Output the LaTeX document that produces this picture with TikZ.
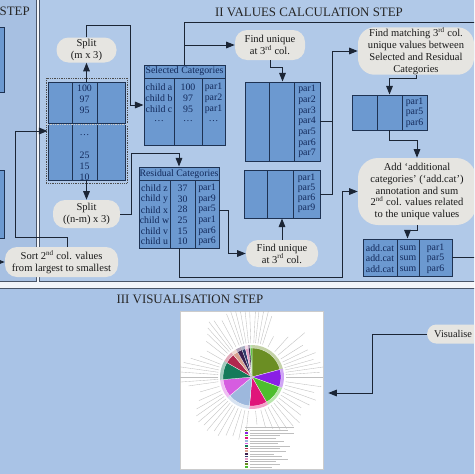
\documentclass[tikz,border=0pt]{standalone}
\usepackage{fontspec}
\setmainfont{Liberation Serif}
\usetikzlibrary{arrows.meta,calc}
\newcommand{\pxu}{0.03cm}
\definecolor{bgone}{HTML}{A7C0E2}
\definecolor{bgtwo}{HTML}{B1C9E8}
\definecolor{bgthree}{HTML}{A9C3E6}
\definecolor{gapwhite}{HTML}{F2F5FA}
\definecolor{panelline}{HTML}{4A5568}
\definecolor{tblfill}{HTML}{6C99D0}
\definecolor{tblline}{HTML}{1E3252}
\definecolor{tbltext}{HTML}{12295A}
\definecolor{bubblefill}{HTML}{E6E5E1}
\definecolor{lineclr}{HTML}{1B2535}
\definecolor{pieolive}{HTML}{6B8E23}
\definecolor{piepurple}{HTML}{8A1FE6}
\definecolor{piegreen}{HTML}{4DBE2E}
\definecolor{piemag}{HTML}{E0157A}
\definecolor{pielblue}{HTML}{9DB8DD}
\definecolor{pieviolet}{HTML}{D65DE0}
\definecolor{pieteal}{HTML}{167A5A}
\definecolor{piecrim}{HTML}{B0284E}
\definecolor{pietan}{HTML}{D9A28F}
\definecolor{piedark}{HTML}{3B1F4F}
\definecolor{pienavy}{HTML}{2E3A6A}
\definecolor{piepink}{HTML}{E8A0C8}
\tikzset{
  panel/.style={draw=panelline, line width=0.6pt},
  title/.style={inner sep=0pt, text=black!85, font=\fontsize{11}{13}\selectfont},
  tbl/.style={draw=tblline, fill=tblfill, line width=0.8pt, inner sep=0pt},
  tblrule/.style={draw=tblline, line width=0.7pt},
  cell/.style={inner sep=0pt, text=tbltext, font=\fontsize{8.4}{9}\selectfont},
  bubble/.style={fill=bubblefill, rounded corners=0.36cm, align=center, inner sep=0pt,
    text=black!90, font=\fontsize{9}{10.2}\selectfont},
  link/.style={draw=lineclr, line width=0.8pt},
  conn/.style={link, -{Triangle[length=2.6mm,width=2mm]}},
  ray/.style={draw=gray!50, line width=0.3pt},
}

\begin{document}
\begin{tikzpicture}[x=0.03cm, y=-0.03cm]
		%%%%% START %%%%%
		\useasboundingbox (0,0) rectangle (474,474);
		\clip (0,0) rectangle (474,474);
		
		% panels
		\fill[gapwhite] (-5,-5) rectangle (480,480);
		\draw[panel, fill=bgone] (-5,-5) rectangle (36,281);
		\draw[panel, fill=bgtwo] (39.5,-5) rectangle (480,281);
		\draw[panel, fill=bgthree] (-5,288) rectangle (480,480);
		
		\node[title, anchor=east] (stepI) at (30,11) {STEP};
		\node[title] (stepII) at (309,12) {II VALUES CALCULATION STEP};
		\node[title] (stepIII) at (190,299) {III VISUALISATION STEP};
		
		% step I (cut at the edge)
		\draw[tbl] (-5,27) rectangle (4,92);
		\draw[tbl] (-5,170) rectangle (4,238);
		\node[bubble, minimum width=113*\pxu, minimum height=30*\pxu] (sort) at (61.5,262) {Sort 2\textsuperscript{nd} col. values\\from largest to smallest};
		\coordinate (inI) at (-5,262);
		
		% sorted table
		\draw[gray!60!black, densely dotted, line width=0.5pt] (46,78) rectangle (127,183);
		\node[tbl, minimum width=77*\pxu, minimum height=98*\pxu] (sorted) at (86.5,131) {};
		\draw[tblrule] (72,82) -- (72,180);
		\draw[tblrule] (97,82) -- (97,180);
		\draw[tblrule] (48,123) -- (125,123);
		\draw[gray!40, densely dotted, line width=0.5pt] (46,124.5) -- (127,124.5);
		\foreach \v/\y [count=\i] in {100/88, 97/99, 95/110, \dots/135, 25/155, 15/166, 10/177}
			\node[cell] (srt\i) at (84.5,\y) {\v};
		
		\node[bubble, minimum width=60*\pxu, minimum height=25*\pxu] (split1) at (86.5,50) {Split\\(m x 3)};
		\node[bubble, minimum width=67*\pxu, minimum height=28*\pxu] (split2) at (86.5,214) {Split\\((n-m) x 3)};
		
		% selected categories
		\node[tbl, minimum width=81*\pxu, minimum height=80*\pxu] (sel) at (184.5,105) {};
		\draw[tblrule] (144,78) -- (225,78);
		\draw[tblrule] (174,78) -- (174,145);
		\draw[tblrule] (202,78) -- (202,145);
		\node[cell] (selhead) at (184.5,71.5) {Selected Categories};
		\foreach \ca/\cb/\cc [count=\i] in {child a/100/par1, child b/97/par2, child c/95/par1, \dots/\dots/\dots}{
			\node[cell] (sela\i) at (159,{87+11.3*(\i-1)}) {\ca};
			\node[cell] (selb\i) at (188,{87+11.3*(\i-1)}) {\cb};
			\node[cell] (selc\i) at (213.5,{87+11.3*(\i-1)}) {\cc};
		}
		
		% residual categories
		\node[tbl, minimum width=80*\pxu, minimum height=81*\pxu] (res) at (179,207.5) {};
		\draw[tblrule] (139,180.5) -- (219,180.5);
		\draw[tblrule] (170,180.5) -- (170,248);
		\draw[tblrule] (195,180.5) -- (195,248);
		\node[cell] (reshead) at (179,174) {Residual Categories};
		\foreach \ca/\cb/\cc [count=\i] in {child z/37/par1, child y/30/par9, child x/28/par5, child w/25/par1, child v/15/par6, child u/10/par6}{
			\node[cell] (resa\i) at (154.5,{188.5+10.6*(\i-1)}) {\ca};
			\node[cell] (resb\i) at (182.5,{188.5+10.6*(\i-1)}) {\cb};
			\node[cell] (resc\i) at (207,{188.5+10.6*(\i-1)}) {\cc};
		}
		
		% unique values
		\node[bubble, minimum width=70*\pxu, minimum height=30*\pxu] (findu1) at (270,45) {Find unique\\at 3\textsuperscript{rd} col.};
		\node[tbl, minimum width=75*\pxu, minimum height=79*\pxu] (uniq1) at (282.5,121.5) {};
		\draw[tblrule] (269,82) -- (269,161);
		\draw[tblrule] (294,82) -- (294,161);
		\foreach \p [count=\i] in {par1,par2,par3,par4,par5,par6,par7}
			\node[cell] (uqa\i) at (307,{89.5+10.7*(\i-1)}) {\p};
		
		\node[tbl, minimum width=76*\pxu, minimum height=48*\pxu] (uniq2) at (282,194) {};
		\draw[tblrule] (267,170) -- (267,218);
		\draw[tblrule] (293,170) -- (293,218);
		\foreach \p [count=\i] in {par1,par5,par6,par9}
			\node[cell] (uqb\i) at (306.5,{178.5+10*(\i-1)}) {\p};
		\node[bubble, minimum width=72*\pxu, minimum height=27*\pxu] (findu2) at (282,253.5) {Find unique\\at 3\textsuperscript{rd} col.};
		
		% matching
		\node[bubble, rounded corners=0.5cm, minimum width=116*\pxu, minimum height=47*\pxu] (match) at (416,51) {Find matching 3\textsuperscript{rd} col.\\unique values between\\Selected and Residual\\Categories};
		\node[tbl, minimum width=75*\pxu, minimum height=35*\pxu] (uniq3) at (389.5,112.5) {};
		\draw[tblrule] (377,95) -- (377,130);
		\draw[tblrule] (402,95) -- (402,130);
		\foreach \p [count=\i] in {par1,par5,par6}
			\node[cell] (uqc\i) at (414.5,{102+10.5*(\i-1)}) {\p};
		
		\node[bubble, rounded corners=0.6cm, minimum width=118*\pxu, minimum height=67*\pxu] (addcat) at (417,191.5) {Add ‘additional\\categories’ (‘add.cat’)\\annotation and sum\\2\textsuperscript{nd} col. values related\\to the unique values};
		\node[tbl, minimum width=89*\pxu, minimum height=37*\pxu] (addtbl) at (407.5,257.5) {};
		\draw[tblrule] (397,239) -- (397,276);
		\draw[tblrule] (419,239) -- (419,276);
		\foreach \p [count=\i] in {par1,par5,par6}{
			\node[cell] (ada\i) at (380,{248+10.5*(\i-1)}) {add.cat};
			\node[cell] (adb\i) at (408,{248+10.5*(\i-1)}) {sum};
			\node[cell] (adc\i) at (435.5,{248+10.5*(\i-1)}) {\p};
		}
		\coordinate (outA) at (480,22);
		\coordinate (outB) at (480,257.5);
		
		% connectors step II
		\draw[conn] (inI) -- (sort.west);
		\draw[conn] ([xshift=5.5*\pxu]sort.north) |- (15,237) |- (sorted.west);
		\draw[conn] (sorted.north) -- (split1.south);
		\draw[conn] (sorted.south) -- (split2.north);
		\draw[conn] (split1.north) |- (130,25) |- (sel.west);
		\draw[conn] (split2.east) -| (131,153) -| (res.north);
		\draw[link] (sel.north) |- (outA);
		\draw[conn] (sel.north) |- (findu1.west);
		\draw[conn] (findu1.south) -- ++(0,7) -| (uniq1.north);
		\draw[conn] (res.east |- 0,210.6) -- (228,210.6) |- (findu2.west);
		\draw[conn] (findu2.north) -- (uniq2.south);
		\draw[link] (uniq1.east) -- (332,121.5);
		\draw[conn] (uniq2.east) -- (332,194) |- (match.west);
		\draw[conn] (match.south) -- ++(0,3.5) -| (uniq3.north);
		\draw[conn] (uniq3.south) -- ++(0,10) -| (addcat.north);
		\draw[conn] (res.south) |- (342,277) |- (addcat.west);
		\draw[conn] (addcat.south) -- ++(0,5) -| (addtbl.north);
		\draw[link] (addtbl.east) -- (outB);
		
		% step III
		\node[draw=gray!40, fill=white, inner sep=0pt, minimum width=143*\pxu, minimum height=158*\pxu] (pie) at (251.5,390) {};
		\begin{scope}[shift={(252,377)}, x=0.03cm, y=0.03cm]
			\clip (-72,-92) rectangle (71,66);
			\foreach \a/\l in {0/38, 4/34, 8/40, 12/36, 16/30, 21/34, 26/28, 32/26, 40/35, 48/20,
				62/12, 72/30, 76/36, 80/40, 84/44, 87/40, 92/40, 96/42, 100/44, 104/38, 108/36,
				112/34, 118/30, 124/34, 128/36, 132/32, 136/28, 142/24, 150/18, 158/22, 163/30,
				168/36, 172/40, 176/38, 180/42, 184/40, 188/30, 196/20, 204/24, 210/30, 215/34,
				220/36, 225/34, 230/36, 235/32, 240/34, 246/30, 252/28, 258/30, 264/24, 276/14,
				285/18, 292/22, 298/26, 304/28, 310/30, 316/32, 322/28, 328/24, 334/30, 340/34,
				346/30, 352/36}
				\draw[ray] (\a:34) -- (\a:34+\l);
			\foreach \s/\e/\c in {90/15/pieolive, 15/-20/piepurple, -20/-60/piegreen, -60/-95/piemag,
				-95/-140/pielblue, -140/-175/pieviolet, 185/150/pieteal, 150/130/piecrim,
				130/120/pietan, 120/110/piedark, 110/103/pienavy, 103/97/piepink, 97/93/piedark, 93/90/piegreen}{
				\fill[\c!40!white] (0,0) -- (\s:32) arc[start angle=\s, end angle=\e, radius=32] -- cycle;
				\filldraw[fill=\c, draw=white, line width=0.2pt] (0,0) -- (\s:29) arc[start angle=\s, end angle=\e, radius=29] -- cycle;
			}
			% legend
			\draw[ray] (-7,-50) -- (42,-50);
			\foreach \c/\l [count=\i] in {pieolive/38, piepurple/44, piegreen/30, piemag/26, pielblue/34,
				pieviolet/28, pieteal/40, piecrim/30, pietan/36, piedark/24, pienavy/32, piepink/38,
				piedark/26, pieolive/30, piegreen/22}{
				\fill[\c] (-7,{-52.5-2.6*(\i-1)}) rectangle ++(3,-1.6);
				\draw[ray] (-2,{-53.3-2.6*(\i-1)}) -- ++(\l,0);
			}
		\end{scope}
		
		\node[bubble, rounded corners=0.27cm, anchor=west, minimum height=19*\pxu, text width=60*\pxu, inner xsep=7*\pxu, align=left, font=\fontsize{8.8}{10}\selectfont] (visual) at (427,334) {Visualise};
		\draw[conn, shorten >=0.15cm] (visual.west) -| (372,393) -- (pie.east |- 0,393);
		%%%%% END %%%%%
	\end{tikzpicture}
\end{document}
